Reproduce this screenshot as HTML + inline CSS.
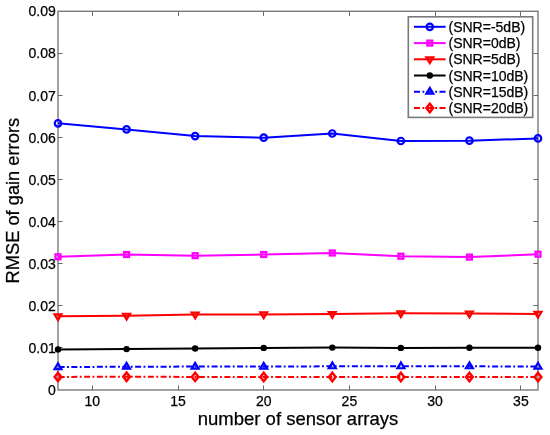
<!DOCTYPE html><html><head><meta charset="utf-8"><title>RMSE of gain errors</title><style>html,body{margin:0;padding:0;background:#fff;width:550px;height:435px;overflow:hidden}svg{display:block}text{font-family:"Liberation Sans",Arial,sans-serif;fill:#000;stroke:#000;stroke-width:0.25px}</style></head><body>
<svg width="550" height="435" viewBox="0 0 550 435">
<rect width="550" height="435" fill="#fff"/>
<rect x="58.0" y="11.3" width="480.0" height="378.7" fill="none" stroke="#7a7a7a" stroke-width="1.4"/>
<line x1="92.5" y1="390.0" x2="92.5" y2="385.4" stroke="#6a6a6a" stroke-width="1"/>
<line x1="92.5" y1="11.3" x2="92.5" y2="15.9" stroke="#6a6a6a" stroke-width="1"/>
<text x="92.3" y="406" font-size="14" text-anchor="middle">10</text>
<line x1="178.5" y1="390.0" x2="178.5" y2="385.4" stroke="#6a6a6a" stroke-width="1"/>
<line x1="178.5" y1="11.3" x2="178.5" y2="15.9" stroke="#6a6a6a" stroke-width="1"/>
<text x="178.0" y="406" font-size="14" text-anchor="middle">15</text>
<line x1="263.5" y1="390.0" x2="263.5" y2="385.4" stroke="#6a6a6a" stroke-width="1"/>
<line x1="263.5" y1="11.3" x2="263.5" y2="15.9" stroke="#6a6a6a" stroke-width="1"/>
<text x="263.7" y="406" font-size="14" text-anchor="middle">20</text>
<line x1="349.5" y1="390.0" x2="349.5" y2="385.4" stroke="#6a6a6a" stroke-width="1"/>
<line x1="349.5" y1="11.3" x2="349.5" y2="15.9" stroke="#6a6a6a" stroke-width="1"/>
<text x="349.4" y="406" font-size="14" text-anchor="middle">25</text>
<line x1="435.5" y1="390.0" x2="435.5" y2="385.4" stroke="#6a6a6a" stroke-width="1"/>
<line x1="435.5" y1="11.3" x2="435.5" y2="15.9" stroke="#6a6a6a" stroke-width="1"/>
<text x="435.1" y="406" font-size="14" text-anchor="middle">30</text>
<line x1="520.5" y1="390.0" x2="520.5" y2="385.4" stroke="#6a6a6a" stroke-width="1"/>
<line x1="520.5" y1="11.3" x2="520.5" y2="15.9" stroke="#6a6a6a" stroke-width="1"/>
<text x="520.9" y="406" font-size="14" text-anchor="middle">35</text>
<text x="55.8" y="395.0" font-size="14" text-anchor="end">0</text>
<line x1="58.0" y1="347.5" x2="62.6" y2="347.5" stroke="#6a6a6a" stroke-width="1"/>
<line x1="538.0" y1="347.5" x2="533.4" y2="347.5" stroke="#6a6a6a" stroke-width="1"/>
<text x="55.8" y="352.9" font-size="14" text-anchor="end">0.01</text>
<line x1="58.0" y1="305.5" x2="62.6" y2="305.5" stroke="#6a6a6a" stroke-width="1"/>
<line x1="538.0" y1="305.5" x2="533.4" y2="305.5" stroke="#6a6a6a" stroke-width="1"/>
<text x="55.8" y="310.8" font-size="14" text-anchor="end">0.02</text>
<line x1="58.0" y1="263.5" x2="62.6" y2="263.5" stroke="#6a6a6a" stroke-width="1"/>
<line x1="538.0" y1="263.5" x2="533.4" y2="263.5" stroke="#6a6a6a" stroke-width="1"/>
<text x="55.8" y="268.8" font-size="14" text-anchor="end">0.03</text>
<line x1="58.0" y1="221.5" x2="62.6" y2="221.5" stroke="#6a6a6a" stroke-width="1"/>
<line x1="538.0" y1="221.5" x2="533.4" y2="221.5" stroke="#6a6a6a" stroke-width="1"/>
<text x="55.8" y="226.7" font-size="14" text-anchor="end">0.04</text>
<line x1="58.0" y1="179.5" x2="62.6" y2="179.5" stroke="#6a6a6a" stroke-width="1"/>
<line x1="538.0" y1="179.5" x2="533.4" y2="179.5" stroke="#6a6a6a" stroke-width="1"/>
<text x="55.8" y="184.6" font-size="14" text-anchor="end">0.05</text>
<line x1="58.0" y1="137.5" x2="62.6" y2="137.5" stroke="#6a6a6a" stroke-width="1"/>
<line x1="538.0" y1="137.5" x2="533.4" y2="137.5" stroke="#6a6a6a" stroke-width="1"/>
<text x="55.8" y="142.5" font-size="14" text-anchor="end">0.06</text>
<line x1="58.0" y1="95.5" x2="62.6" y2="95.5" stroke="#6a6a6a" stroke-width="1"/>
<line x1="538.0" y1="95.5" x2="533.4" y2="95.5" stroke="#6a6a6a" stroke-width="1"/>
<text x="55.8" y="100.5" font-size="14" text-anchor="end">0.07</text>
<line x1="58.0" y1="53.5" x2="62.6" y2="53.5" stroke="#6a6a6a" stroke-width="1"/>
<line x1="538.0" y1="53.5" x2="533.4" y2="53.5" stroke="#6a6a6a" stroke-width="1"/>
<text x="55.8" y="58.4" font-size="14" text-anchor="end">0.08</text>
<text x="55.8" y="16.3" font-size="14" text-anchor="end">0.09</text>
<polyline points="58.0,123.3 126.6,129.4 195.1,136.1 263.7,137.7 332.3,133.5 400.9,141.0 469.4,140.7 538.0,138.4" fill="none" stroke="#0000ff" stroke-width="2" stroke-linejoin="round"/>
<circle cx="58.00" cy="123.30" r="3.25" fill="none" stroke="#0000ff" stroke-width="2.2"/>
<circle cx="126.57" cy="129.40" r="3.25" fill="none" stroke="#0000ff" stroke-width="2.2"/>
<circle cx="195.14" cy="136.10" r="3.25" fill="none" stroke="#0000ff" stroke-width="2.2"/>
<circle cx="263.71" cy="137.70" r="3.25" fill="none" stroke="#0000ff" stroke-width="2.2"/>
<circle cx="332.29" cy="133.50" r="3.25" fill="none" stroke="#0000ff" stroke-width="2.2"/>
<circle cx="400.86" cy="141.00" r="3.25" fill="none" stroke="#0000ff" stroke-width="2.2"/>
<circle cx="469.43" cy="140.70" r="3.25" fill="none" stroke="#0000ff" stroke-width="2.2"/>
<circle cx="538.00" cy="138.40" r="3.25" fill="none" stroke="#0000ff" stroke-width="2.2"/>
<polyline points="58.0,256.8 126.6,254.5 195.1,255.7 263.7,254.5 332.3,253.0 400.9,256.2 469.4,257.1 538.0,254.2" fill="none" stroke="#ff00ff" stroke-width="2" stroke-linejoin="round"/>
<rect x="55.55" y="254.35" width="4.9" height="4.9" fill="none" stroke="#ff00ff" stroke-width="2.3"/>
<rect x="124.12" y="252.05" width="4.9" height="4.9" fill="none" stroke="#ff00ff" stroke-width="2.3"/>
<rect x="192.69" y="253.25" width="4.9" height="4.9" fill="none" stroke="#ff00ff" stroke-width="2.3"/>
<rect x="261.26" y="252.05" width="4.9" height="4.9" fill="none" stroke="#ff00ff" stroke-width="2.3"/>
<rect x="329.84" y="250.55" width="4.9" height="4.9" fill="none" stroke="#ff00ff" stroke-width="2.3"/>
<rect x="398.41" y="253.75" width="4.9" height="4.9" fill="none" stroke="#ff00ff" stroke-width="2.3"/>
<rect x="466.98" y="254.65" width="4.9" height="4.9" fill="none" stroke="#ff00ff" stroke-width="2.3"/>
<rect x="535.55" y="251.75" width="4.9" height="4.9" fill="none" stroke="#ff00ff" stroke-width="2.3"/>
<polyline points="58.0,316.3 126.6,315.7 195.1,314.5 263.7,314.4 332.3,314.1 400.9,313.3 469.4,313.6 538.0,313.9" fill="none" stroke="#ff0000" stroke-width="2" stroke-linejoin="round"/>
<polygon points="58.00,320.10 54.54,314.34 61.46,314.34" fill="none" stroke="#ff0000" stroke-width="2.2" stroke-miterlimit="10"/>
<polygon points="126.57,319.50 123.11,313.74 130.03,313.74" fill="none" stroke="#ff0000" stroke-width="2.2" stroke-miterlimit="10"/>
<polygon points="195.14,318.30 191.69,312.54 198.60,312.54" fill="none" stroke="#ff0000" stroke-width="2.2" stroke-miterlimit="10"/>
<polygon points="263.71,318.20 260.26,312.44 267.17,312.44" fill="none" stroke="#ff0000" stroke-width="2.2" stroke-miterlimit="10"/>
<polygon points="332.29,317.90 328.83,312.14 335.74,312.14" fill="none" stroke="#ff0000" stroke-width="2.2" stroke-miterlimit="10"/>
<polygon points="400.86,317.10 397.40,311.34 404.31,311.34" fill="none" stroke="#ff0000" stroke-width="2.2" stroke-miterlimit="10"/>
<polygon points="469.43,317.40 465.97,311.64 472.89,311.64" fill="none" stroke="#ff0000" stroke-width="2.2" stroke-miterlimit="10"/>
<polygon points="538.00,317.70 534.54,311.94 541.46,311.94" fill="none" stroke="#ff0000" stroke-width="2.2" stroke-miterlimit="10"/>
<polyline points="58.0,349.4 126.6,349.1 195.1,348.5 263.7,347.9 332.3,347.6 400.9,347.9 469.4,347.8 538.0,347.8" fill="none" stroke="#000000" stroke-width="2" stroke-linejoin="round"/>
<circle cx="58.00" cy="349.40" r="3.2" fill="#000000"/>
<circle cx="126.57" cy="349.10" r="3.2" fill="#000000"/>
<circle cx="195.14" cy="348.50" r="3.2" fill="#000000"/>
<circle cx="263.71" cy="347.90" r="3.2" fill="#000000"/>
<circle cx="332.29" cy="347.60" r="3.2" fill="#000000"/>
<circle cx="400.86" cy="347.90" r="3.2" fill="#000000"/>
<circle cx="469.43" cy="347.80" r="3.2" fill="#000000"/>
<circle cx="538.00" cy="347.80" r="3.2" fill="#000000"/>
<polyline points="58.0,367.1 126.6,366.7 195.1,366.6 263.7,366.6 332.3,366.3 400.9,366.3 469.4,366.3 538.0,366.6" fill="none" stroke="#0000ff" stroke-width="2" stroke-linejoin="round" stroke-dasharray="6 2.45 1.85 2.45" stroke-dashoffset="-0.6"/>
<polygon points="58.00,363.30 54.54,369.06 61.46,369.06" fill="none" stroke="#0000ff" stroke-width="2.2" stroke-miterlimit="10"/>
<polygon points="126.57,362.90 123.11,368.66 130.03,368.66" fill="none" stroke="#0000ff" stroke-width="2.2" stroke-miterlimit="10"/>
<polygon points="195.14,362.80 191.69,368.56 198.60,368.56" fill="none" stroke="#0000ff" stroke-width="2.2" stroke-miterlimit="10"/>
<polygon points="263.71,362.80 260.26,368.56 267.17,368.56" fill="none" stroke="#0000ff" stroke-width="2.2" stroke-miterlimit="10"/>
<polygon points="332.29,362.50 328.83,368.26 335.74,368.26" fill="none" stroke="#0000ff" stroke-width="2.2" stroke-miterlimit="10"/>
<polygon points="400.86,362.50 397.40,368.26 404.31,368.26" fill="none" stroke="#0000ff" stroke-width="2.2" stroke-miterlimit="10"/>
<polygon points="469.43,362.50 465.97,368.26 472.89,368.26" fill="none" stroke="#0000ff" stroke-width="2.2" stroke-miterlimit="10"/>
<polygon points="538.00,362.80 534.54,368.56 541.46,368.56" fill="none" stroke="#0000ff" stroke-width="2.2" stroke-miterlimit="10"/>
<polyline points="58.0,376.9 126.6,376.8 195.1,376.9 263.7,377.0 332.3,377.0 400.9,377.0 469.4,377.0 538.0,377.0" fill="none" stroke="#ff0000" stroke-width="2" stroke-linejoin="round" stroke-dasharray="6 2.45 1.85 2.45" stroke-dashoffset="-0.6"/>
<polygon points="58.00,372.72 61.31,376.90 58.00,381.08 54.69,376.90" fill="none" stroke="#ff0000" stroke-width="2.5" stroke-miterlimit="10"/>
<polygon points="126.57,372.62 129.88,376.80 126.57,380.98 123.26,376.80" fill="none" stroke="#ff0000" stroke-width="2.5" stroke-miterlimit="10"/>
<polygon points="195.14,372.72 198.45,376.90 195.14,381.08 191.84,376.90" fill="none" stroke="#ff0000" stroke-width="2.5" stroke-miterlimit="10"/>
<polygon points="263.71,372.82 267.02,377.00 263.71,381.18 260.41,377.00" fill="none" stroke="#ff0000" stroke-width="2.5" stroke-miterlimit="10"/>
<polygon points="332.29,372.82 335.59,377.00 332.29,381.18 328.98,377.00" fill="none" stroke="#ff0000" stroke-width="2.5" stroke-miterlimit="10"/>
<polygon points="400.86,372.82 404.16,377.00 400.86,381.18 397.55,377.00" fill="none" stroke="#ff0000" stroke-width="2.5" stroke-miterlimit="10"/>
<polygon points="469.43,372.82 472.74,377.00 469.43,381.18 466.12,377.00" fill="none" stroke="#ff0000" stroke-width="2.5" stroke-miterlimit="10"/>
<polygon points="538.00,372.82 541.31,377.00 538.00,381.18 534.69,377.00" fill="none" stroke="#ff0000" stroke-width="2.5" stroke-miterlimit="10"/>
<text x="298" y="424.9" font-size="18.5" text-anchor="middle">number of sensor arrays</text>
<text transform="translate(19,200.7) rotate(-90)" font-size="18.3" text-anchor="middle">RMSE of gain errors</text>
<rect x="408.3" y="16.8" width="124.4" height="100.6" fill="#fff" stroke="#7a7a7a" stroke-width="1.6"/>
<line x1="414" y1="26.8" x2="445.6" y2="26.8" stroke="#0000ff" stroke-width="2"/>
<circle cx="429.80" cy="26.80" r="3.25" fill="none" stroke="#0000ff" stroke-width="2.2"/>
<text x="448.5" y="31.8" font-size="14">(SNR=-5dB)</text>
<line x1="414" y1="43.1" x2="445.6" y2="43.1" stroke="#ff00ff" stroke-width="2"/>
<rect x="427.35" y="40.65" width="4.9" height="4.9" fill="none" stroke="#ff00ff" stroke-width="2.3"/>
<text x="448.5" y="48.1" font-size="14">(SNR=0dB)</text>
<line x1="414" y1="59.3" x2="445.6" y2="59.3" stroke="#ff0000" stroke-width="2"/>
<polygon points="429.80,63.10 426.34,57.34 433.26,57.34" fill="none" stroke="#ff0000" stroke-width="2.2" stroke-miterlimit="10"/>
<text x="448.5" y="64.3" font-size="14">(SNR=5dB)</text>
<line x1="414" y1="75.5" x2="445.6" y2="75.5" stroke="#000000" stroke-width="2"/>
<circle cx="429.80" cy="75.50" r="3.2" fill="#000000"/>
<text x="448.5" y="80.5" font-size="14">(SNR=10dB)</text>
<line x1="414" y1="91.8" x2="445.6" y2="91.8" stroke="#0000ff" stroke-width="2" stroke-dasharray="6 2.45 1.85 2.45"/>
<polygon points="429.80,88.00 426.34,93.76 433.26,93.76" fill="none" stroke="#0000ff" stroke-width="2.2" stroke-miterlimit="10"/>
<text x="448.5" y="96.8" font-size="14">(SNR=15dB)</text>
<line x1="414" y1="108.0" x2="445.6" y2="108.0" stroke="#ff0000" stroke-width="2" stroke-dasharray="6 2.45 1.85 2.45"/>
<polygon points="429.80,103.82 433.11,108.00 429.80,112.18 426.49,108.00" fill="none" stroke="#ff0000" stroke-width="2.5" stroke-miterlimit="10"/>
<text x="448.5" y="113.0" font-size="14">(SNR=20dB)</text>
</svg></body></html>
